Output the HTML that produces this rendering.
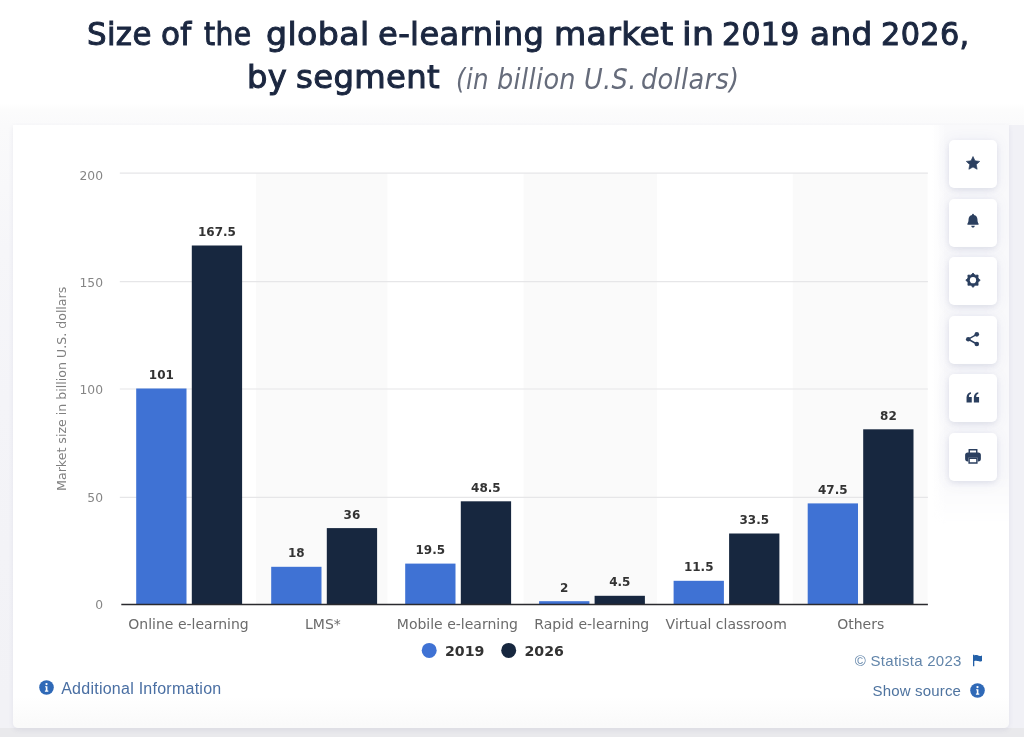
<!DOCTYPE html>
<html lang="en"><head><meta charset="utf-8"><title>Size of the global e-learning market</title>
<style>
html,body{margin:0;padding:0}
body{width:1024px;height:737px;overflow:hidden;background:linear-gradient(#fafafb 125px,#f6f6f9 250px,#f4f4f8 400px,#f2f2f6 700px);position:relative;font-family:"DejaVu Sans","Liberation Sans",sans-serif}
.top{position:absolute;left:0;top:0;width:1024px;height:125px;background:linear-gradient(#fff 104px,#fcfcfc 110px,#fafafb 125px)}
.card{position:absolute;left:12.5px;top:124.5px;width:996.5px;height:603px;background:linear-gradient(#fff 572px,#fafafa 600px);border-radius:0 0 5px 5px;box-shadow:0 2px 5px rgba(100,100,150,.10)}
.rm{position:absolute;left:1009px;top:125px;width:15px;height:603px;background:#f1f1f6}
.bot{position:absolute;left:0;top:727.5px;width:1024px;height:10px;background:#e9e9ec}
.t1,.t2,.t3{position:absolute;white-space:nowrap;color:#1b2740;line-height:1}
.tw{position:absolute;white-space:nowrap;color:#1b2740;line-height:1;font-size:31.4px;letter-spacing:.36px;-webkit-text-stroke:1px #1b2740;transform-origin:0 0;display:block}
.t1{left:87px;top:18.5px}
.t2{left:249px;top:61.5px}
.t3{top:66px;transform-origin:0 0;display:block;letter-spacing:.33px;font-size:28px;font-family:'DejaVu Sans Condensed','Liberation Sans',sans-serif;font-style:italic;color:#666c7b}
svg text{font-family:"DejaVu Sans","Liberation Sans",sans-serif}
.vl{font-size:12px;font-weight:bold;fill:#333;text-anchor:middle}
.cl{font-size:14px;fill:#6b6b6b;text-anchor:middle}
.yl{font-size:12.3px;fill:#858585;text-anchor:end}
.yt{font-size:12.6px;fill:#808080;text-anchor:middle}
.lg{font-size:14.2px;font-weight:bold;fill:#333}
.btn{position:absolute;left:949px;width:48px;height:48px;background:#fff;border-radius:5px;box-shadow:0 2px 5px rgba(80,85,130,.10),0 1px 14px rgba(90,100,170,.10)}
.tint{position:absolute;left:932px;top:125px;width:77px;height:400px;background:linear-gradient(to right,rgba(248,248,251,0),#f9f9fb 14px);-webkit-mask-image:linear-gradient(#000 350px,transparent);mask-image:linear-gradient(#000 350px,transparent)}
.btn svg{position:absolute;left:13.5px;top:12.7px;transform:scale(.95)}
.lnk{position:absolute;white-space:nowrap;font-family:"Liberation Sans",sans-serif;font-size:15px;color:#4571a8;line-height:1}
.info{position:absolute}
.ic{position:absolute;width:13px;height:13px;border-radius:50%;background:#2f6fc9;color:#fff;font:bold 10px/13px "Liberation Serif",serif;text-align:center}
</style></head><body>
<div class="top"></div>
<div class="rm"></div>
<div class="bot"></div>
<div class="card"></div>
<div class="tint"></div>
<div class="ttl"><span class="tw" style="left:87.4px;top:18.5px;transform:scaleX(0.9823)">Size</span> <span class="tw" style="left:161.0px;top:18.5px;transform:scaleX(0.9900)">of</span> <span class="tw" style="left:204.0px;top:18.5px;transform:scaleX(0.9000)">the</span> <span class="tw" style="left:265.9px;top:18.5px;transform:scaleX(1.0581)">global</span> <span class="tw" style="left:377.5px;top:18.5px;transform:scaleX(1.0244)">e-learning</span> <span class="tw" style="left:554.2px;top:18.5px;transform:scaleX(1.0536)">market</span> <span class="tw" style="left:682.0px;top:18.5px;transform:scaleX(1.1083)">in</span> <span class="tw" style="left:722.1px;top:18.5px;transform:scaleX(0.9545)">2019</span> <span class="tw" style="left:810.2px;top:18.5px;transform:scaleX(1.0429)">and</span> <span class="tw" style="left:880.7px;top:18.5px;transform:scaleX(0.9667)">2026,</span> <span class="tw" style="left:247.4px;top:62px;transform:scaleX(1.0257)">by</span> <span class="tw" style="left:295.6px;top:62px;transform:scaleX(1.0279)">segment</span></div>
<div class="sub"><span class="t3" style="left:456.2px;transform:scaleX(0.9767)">(in</span> <span class="t3" style="left:497.4px;transform:scaleX(1.0160)">billion</span> <span class="t3" style="left:583.5px;transform:scaleX(1.0174)">U.S.</span> <span class="t3" style="left:641.1px;transform:scaleX(1.0172)">dollars)</span></div>
<svg width="1024" height="737" viewBox="0 0 1024 737" style="position:absolute;left:0;top:0">
<rect x="256" y="173" width="131.4" height="431.5" fill="#fafafa"/>
<rect x="523.6" y="173" width="133.3" height="431.5" fill="#fafafa"/>
<rect x="792.7" y="173" width="134.9" height="431.5" fill="#fafafa"/>
<line x1="119.8" x2="927.9" y1="173.2" y2="173.2" stroke="#e6e6e8" stroke-width="1.2"/>
<line x1="119.8" x2="927.9" y1="281.6" y2="281.6" stroke="#e6e6e8" stroke-width="1.2"/>
<line x1="119.8" x2="927.9" y1="389.0" y2="389.0" stroke="#e6e6e8" stroke-width="1.2"/>
<line x1="119.8" x2="927.9" y1="497.3" y2="497.3" stroke="#e6e6e8" stroke-width="1.2"/>
<rect x="136.2" y="388.5" width="50.3" height="216.0" fill="#3f72d4"/>
<rect x="191.8" y="245.5" width="50.3" height="359.0" fill="#17273f"/>
<text class="vl" x="161.4" y="379.1">101</text>
<text class="vl" x="217.0" y="236.1">167.5</text>
<text class="cl" x="188.5" y="629.2">Online e-learning</text>
<rect x="271.2" y="566.8" width="50.3" height="37.7" fill="#3f72d4"/>
<rect x="326.8" y="528.1" width="50.3" height="76.4" fill="#17273f"/>
<text class="vl" x="296.3" y="557.4">18</text>
<text class="vl" x="351.9" y="518.7">36</text>
<text class="cl" x="322.9" y="629.2">LMS*</text>
<rect x="405.2" y="563.6" width="50.3" height="40.9" fill="#3f72d4"/>
<rect x="460.8" y="501.3" width="50.3" height="103.2" fill="#17273f"/>
<text class="vl" x="430.3" y="554.2">19.5</text>
<text class="vl" x="485.9" y="491.9">48.5</text>
<text class="cl" x="457.4" y="629.2">Mobile e-learning</text>
<rect x="539.1" y="601.2" width="50.3" height="3.3" fill="#3f72d4"/>
<rect x="594.6" y="595.8" width="50.3" height="8.7" fill="#17273f"/>
<text class="vl" x="564.2" y="591.8">2</text>
<text class="vl" x="619.8" y="586.4">4.5</text>
<text class="cl" x="591.8" y="629.2">Rapid e-learning</text>
<rect x="673.6" y="580.8" width="50.3" height="23.7" fill="#3f72d4"/>
<rect x="729.1" y="533.5" width="50.3" height="71.0" fill="#17273f"/>
<text class="vl" x="698.7" y="571.4">11.5</text>
<text class="vl" x="754.3" y="524.1">33.5</text>
<text class="cl" x="726.2" y="629.2">Virtual classroom</text>
<rect x="807.7" y="503.4" width="50.3" height="101.1" fill="#3f72d4"/>
<rect x="863.2" y="429.3" width="50.3" height="175.2" fill="#17273f"/>
<text class="vl" x="832.8" y="494.0">47.5</text>
<text class="vl" x="888.4" y="419.9">82</text>
<text class="cl" x="860.7" y="629.2">Others</text>
<line x1="121.3" x2="927.9" y1="604.5" y2="604.5" stroke="#2a2a2e" stroke-width="1.7"/>
<text class="yl" x="103" y="179.6">200</text>
<text class="yl" x="103" y="286.9">150</text>
<text class="yl" x="103" y="394.3">100</text>
<text class="yl" x="103" y="502.4">50</text>
<text class="yl" x="103" y="609.1">0</text>
<text class="yt" transform="translate(66,388.8) rotate(-90)">Market size in billion U.S. dollars</text>
<circle cx="429.2" cy="650.4" r="7.5" fill="#3f72d4"/><text class="lg" x="445" y="656">2019</text>
<circle cx="508.7" cy="650.4" r="7.5" fill="#17273f"/><text class="lg" x="524.4" y="656">2026</text>
</svg>
<div class="btn" style="top:140.2px"><svg width="20" height="20" viewBox="0 0 20 20"><path d="M10.00,3.20L12.12,7.69L17.04,8.31L13.42,11.71L14.35,16.59L10.00,14.20L5.65,16.59L6.58,11.71L2.96,8.31L7.88,7.69Z" fill="#2b3f5f" stroke="#2b3f5f" stroke-width="0.7" stroke-linejoin="round"/></svg></div>
<div class="btn" style="top:198.8px"><svg width="20" height="20" viewBox="0 0 20 20"><path d="M10 2.300c.6 0 1 .4 1 1v.4c2.300.5 3.700 2.400 3.700 4.800 0 2.300.5 3.600 1.200 4.400.3.300.1 1-.4 1H4.500c-.5 0-.7-.7-.4-1 .7-.8 1.200-2.100 1.200-4.400 0-2.400 1.400-4.300 3.700-4.800v-.4c0-.6.4-1 1-1zM8.100 15.100h3.800a1.900 1.900 0 0 1-3.800 0z" fill="#2b3f5f"/></svg></div>
<div class="btn" style="top:257.3px"><svg width="20" height="20" viewBox="0 0 20 20"><path d="M10.00,2.60L12.18,4.93L15.37,4.83L15.27,8.02L17.60,10.20L15.27,12.38L15.37,15.57L12.18,15.47L10.00,17.80L7.82,15.47L4.63,15.57L4.73,12.38L2.40,10.20L4.73,8.02L4.63,4.83L7.82,4.93Z" fill="#2b3f5f" stroke="#2b3f5f" stroke-width="0.8" stroke-linejoin="round"/><circle cx="10" cy="10.200" r="3.300" fill="#fff"/></svg></div>
<div class="btn" style="top:315.9px"><svg width="20" height="20" viewBox="0 0 20 20"><path d="M14 5.100L5 10.200l9 5.100" fill="none" stroke="#2b3f5f" stroke-width="1.600"/><circle cx="14" cy="5.100" r="2.400" fill="#2b3f5f"/><circle cx="5" cy="10.200" r="2.400" fill="#2b3f5f"/><circle cx="14" cy="15.300" r="2.400" fill="#2b3f5f"/></svg></div>
<div class="btn" style="top:374.4px"><svg width="20" height="20" viewBox="0 0 20 20"><path d="M3.2 10h5.500v5.800H3.2zM3.2 10.800c0-3.300 1.600-5.400 4.700-5.800v1.700c-1.500.4-2.200 1.500-2.200 3.300v.8zM10.9 10h5.500v5.800H10.9zM10.9 10.800c0-3.300 1.600-5.400 4.700-5.800v1.700c-1.500.4-2.200 1.500-2.200 3.300v.8z" fill="#2b3f5f"/></svg></div>
<div class="btn" style="top:433.0px"><svg width="20" height="20" viewBox="0 0 20 20"><path d="M5.300 2.600h9.400v5H13.200V4.100H6.800v3.500H5.300z" fill="#2b3f5f"/><path d="M4.500 6.200h11a2.800 2.800 0 0 1 2.800 2.800v4a2.800 2.800 0 0 1-2.800 2.800h-.600v-3.900H5.100v3.900h-.6a2.800 2.800 0 0 1-2.800-2.800v-4a2.800 2.800 0 0 1 2.800-2.800z" fill="#2b3f5f"/><path d="M5.900 12.500h8.200v4.800H5.900z" fill="none" stroke="#2b3f5f" stroke-width="1.500"/></svg></div>

<svg class="info" style="left:38.5px;top:680.4px" width="15" height="15" viewBox="0 0 15 15"><circle cx="7.5" cy="7.500" r="7.300" fill="#2f69b7"/><circle cx="7.500" cy="4.100" r="1.150" fill="#fff"/><path d="M6.100 6.200h2.300v4.400h.9v1.100H5.900v-1.100h.9V7.300h-.7z" fill="#fff"/></svg>
<div class="lnk" style="left:61.2px;top:680.5px;font-size:16px;letter-spacing:.25px;color:#4a6fa3">Additional Information</div>
<div class="lnk" style="left:854.8px;top:652.8px;font-size:15px;letter-spacing:.27px;color:#6285aa">© Statista 2023</div>
<svg class="info" style="left:972px;top:654px" width="11" height="13" viewBox="0 0 11 13"><path d="M1 .800h1.300v11.400H1zM2.300 1.500c1.500-.7 2.700-.5 3.800 0s2.300.6 3.900-.100v5.600c-1.600.7-2.800.6-3.900.100s-2.300-.7-3.800 0z" fill="#2460a8"/></svg>
<div class="lnk" style="left:872.5px;top:683.3px;font-size:15px;letter-spacing:.17px;color:#4e739f">Show source</div>
<svg class="info" style="left:970.2px;top:682.9px" width="15" height="15" viewBox="0 0 15 15"><circle cx="7.500" cy="7.500" r="7.300" fill="#2f69b7"/><circle cx="7.500" cy="4.100" r="1.150" fill="#fff"/><path d="M6.100 6.200h2.300v4.400h.9v1.100H5.900v-1.100h.9V7.300h-.7z" fill="#fff"/></svg>
</body></html>
